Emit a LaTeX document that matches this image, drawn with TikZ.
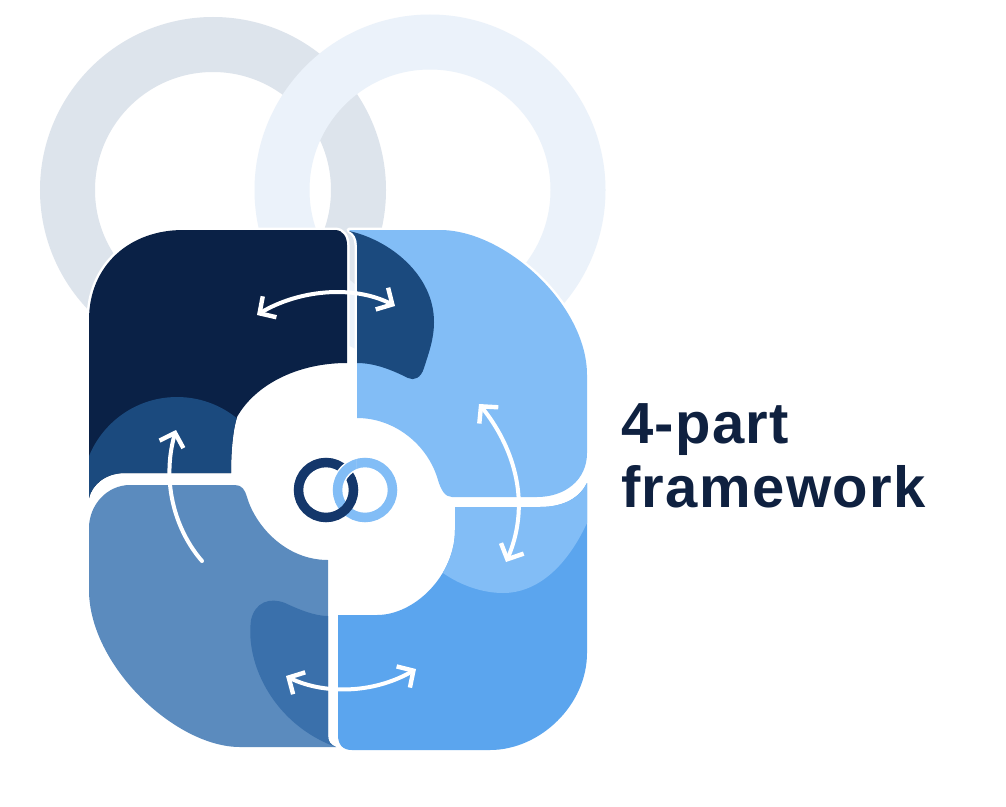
\documentclass[tikz,border=0pt]{standalone}
\usepackage{fontspec}
\usetikzlibrary{arrows.meta,bending}
\newfontfamily\labelfont[LetterSpace=2.4]{Liberation Sans Bold}
\definecolor{ringgray}{HTML}{DDE4EC}
\definecolor{ringlight}{HTML}{EBF2FA}
\definecolor{navy}{HTML}{0A2146}
\definecolor{navylens}{HTML}{1B4A7E}
\definecolor{logonavy}{HTML}{14376B}
\definecolor{skyblue}{HTML}{82BDF6}
\definecolor{midblue}{HTML}{5BA5EE}
\definecolor{steelblue}{HTML}{5B8BBE}
\definecolor{steellens}{HTML}{3A70AB}
\definecolor{inktext}{HTML}{0F2140}
\tikzset{
  halo/.style={draw=white,line width=5pt,line join=round},
  flow/.style={draw=white,line width=4pt,line cap=round,
    arrows={Straight Barb[length=12pt,width=25pt,line width=4.4pt,flex]-Straight Barb[length=12pt,width=25pt,line width=4.4pt,flex]}},
  flowone/.style={draw=white,line width=4pt,line cap=round,
    arrows={-Straight Barb[length=12pt,width=25pt,line width=4.4pt,flex]}},
  bigring/.style={line width=55pt,fill=none},
  smallring/.style={line width=9.5pt,fill=none},
  title/.style={font=\labelfont\fontsize{58pt}{58pt}\selectfont,text=inktext,anchor=base west,inner sep=0pt}
}
\def\pathTL{(183,230) -- (335,230) .. controls (343,230) and (347,237) .. (347,245) -- (347,363) .. controls (297,363) and (255,385) .. (237,417) .. controls (233,430) and (231,450) .. (231,473) -- (125,473) .. controls (105,473) and (92,485) .. (89,498) -- (89,320) .. controls (89,265) and (130,230) .. (183,230) -- cycle}
\def\pathTR{(349,230) -- (440,230) .. controls (505,230) and (587,305) .. (587,375) -- (587,453) .. controls (587,480) and (565,497) .. (537,497) -- (452,497) .. controls (445,497) and (441,490) .. (438,480) .. controls (428,445) and (395,418) .. (357,418) -- (357,245) .. controls (357,238) and (354,233) .. (349,230) -- cycle}
\def\pathBR{(587,483) -- (587,653) .. controls (587,705) and (540,750) .. (490,750) -- (352,750) .. controls (343,750) and (338,745) .. (338,735) -- (338,615) -- (377,615) .. controls (415,615) and (455,575) .. (455,530) -- (455,507) -- (540,507) .. controls (565,507) and (580,497) .. (587,483) -- cycle}
\def\pathBL{(130,485) -- (235,485) .. controls (242,485) and (245,490) .. (247,497) .. controls (255,525) and (285,560) .. (328,560) -- (328,735) .. controls (328,742) and (331,745) .. (336,747) -- (240,747) .. controls (175,747) and (89,665) .. (89,590) -- (89,528) .. controls (89,505) and (107,485) .. (130,485) -- cycle}
\begin{document}
\begin{tikzpicture}[x=1pt,y=-1pt]
\useasboundingbox (0,0) rectangle (1006,806);
\fill[white] (0,0) rectangle (1006,806);
% background rings
\draw[bigring,draw=ringgray] (213,190) circle [radius=145.5];
\draw[bigring,draw=ringlight] (430,190) circle [radius=148];
% halos
\draw[halo] \pathTL;
\draw[halo] \pathTR;
\draw[halo] \pathBR;
\draw[halo] \pathBL;
% quarter fills
\fill[navy] \pathTL;
\begin{scope}
  \clip \pathTL;
  \fill[navylens] (177,492) circle [radius=95];
\end{scope}
\fill[skyblue] \pathTR;
\fill[navylens] (349,231) .. controls (390,240) and (434,275) .. (434,322) .. controls (434,340) and (428,355) .. (424,368) .. controls (421,378) and (414,381) .. (408,378) .. controls (392,370) and (375,363) .. (357,363) -- (357,245) .. controls (357,238) and (354,233) .. (349,231) -- cycle;
\fill[midblue] \pathBR;
\begin{scope}
  \clip \pathBR;
  \fill[skyblue] (455,475) -- (590,475) -- (587,523) .. controls (565,570) and (535,593) .. (503,593) .. controls (482,593) and (460,585) .. (443,573) .. controls (450,555) and (455,530) .. (455,507) -- cycle;
\end{scope}
\fill[steelblue] \pathBL;
\fill[steellens] (328,616) .. controls (315,616) and (300,610) .. (285,603) .. controls (270,597) and (255,602) .. (251,620) .. controls (245,665) and (275,725) .. (336,747) .. controls (331,745) and (328,742) .. (328,735) -- cycle;
% flow arrows
\coordinate (topL) at (257,315);
\coordinate (topR) at (395,306);
\coordinate (rightT) at (479,404);
\coordinate (rightB) at (506,562);
\coordinate (botL) at (286,676);
\coordinate (botR) at (416,669);
\coordinate (leftT) at (176,430);
\coordinate (leftB) at (202,561);
\draw[flow] (topL) .. controls (295,290) and (355,283) .. (topR);
\draw[flow] (rightT) .. controls (510,440) and (535,500) .. (rightB);
\draw[flow] (botL) .. controls (320,695) and (375,695) .. (botR);
\draw[flowone] (leftB) .. controls (175,530) and (160,480) .. (leftT);
% centre logo
\draw[smallring,draw=skyblue] (365,490) circle [radius=27.5];
\draw[smallring,draw=logonavy] (326,490) circle [radius=27.5];
\begin{scope}
  \clip (336,458) rectangle (356,480);
  \draw[line width=12.5pt,draw=white] (365,490) circle [radius=27.5];
  \draw[smallring,draw=skyblue] (365,490) circle [radius=27.5];
\end{scope}
% label
\node[title] (lineone) at (621,443) {4-part};
\node[title] (linetwo) at (621,507) {framework};
\end{tikzpicture}
\end{document}
